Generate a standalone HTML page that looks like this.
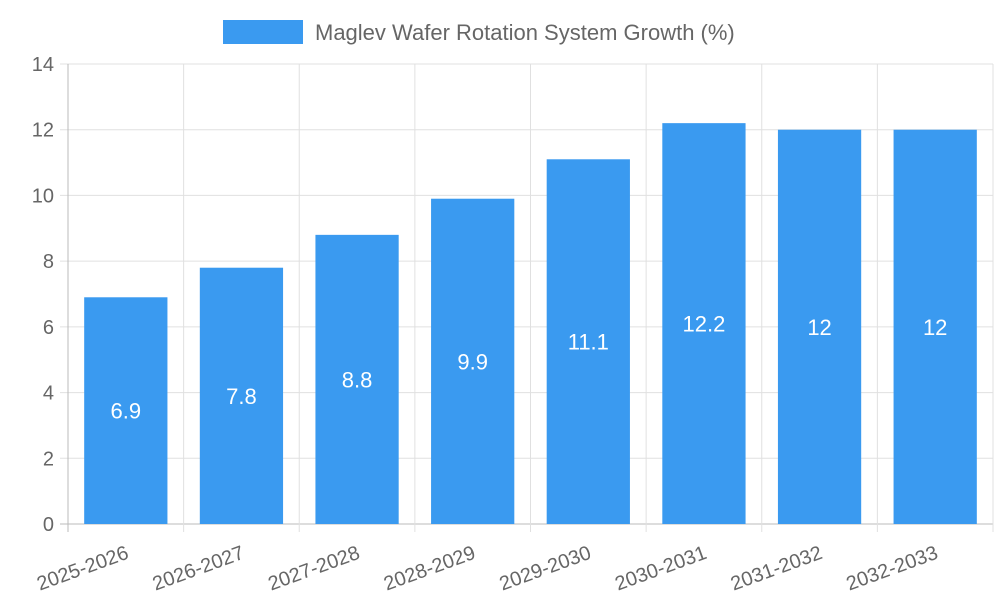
<!DOCTYPE html>
<html><head><meta charset="utf-8"><style>
body{margin:0;background:#fff;font-family:"Liberation Sans",sans-serif}
</style></head><body>
<svg id="c" width="1000" height="600" xmlns="http://www.w3.org/2000/svg" font-family="Liberation Sans, sans-serif">
<g>
<rect x="223" y="20" width="80" height="24" fill="#3a9af0"/>
<text x="315" y="40" font-size="22" fill="#666">Maglev Wafer Rotation System Growth (%)</text>
</g>
</svg>
<script>
const categories=["2025-2026","2026-2027","2027-2028","2028-2029","2029-2030","2030-2031","2031-2032","2032-2033"];
const values=[6.9,7.8,8.8,9.9,11.1,12.2,12,12];
const yTicks=[0,2,4,6,8,10,12,14];
const svg=document.getElementById('c');const NS="http://www.w3.org/2000/svg";
const L=68,R=993,T=64,B=524,yMax=14;
const y=v=>B-(v/yMax)*(B-T);
const bw=(R-L)/categories.length;
const x=i=>L+i*bw;
function mk(t,a,p){const e=document.createElementNS(NS,t);for(const k in a)e.setAttribute(k,a[k]);(p||svg).appendChild(e);return e;}
const grid=mk('g',{});


yTicks.forEach(v=>{
 const l=mk('line',{x1:L-8,x2:R,y1:y(v),y2:y(v),stroke:v===0?'#bbb':'#e0e0e0','stroke-width':1},grid);
 
 
 const t=mk('text',{x:L-14,y:y(v)+7,'text-anchor':'end','font-size':20,fill:'#666'},svg);
 t.textContent=v;
 
 
});
for(let i=0;i<=categories.length;i++){
 const l=mk('line',{x1:x(i),x2:x(i),y1:T,y2:B+8,stroke:i===0?'#bbb':'#e0e0e0','stroke-width':1},grid);
 
 
}
categories.forEach((c,i)=>{
 const w=bw*0.72,cx=x(i)+bw/2;
 const r=mk('rect',{x:cx-w/2,y:y(values[i]),width:w,height:B-y(values[i]),fill:'#3a9af0'});
 
 
 const v=mk('text',{x:cx,y:(y(values[i])+B)/2+8,'text-anchor':'middle','font-size':22,fill:'#fff'});
 v.textContent=values[i];
 
 
 const t=mk('text',{x:cx+4,y:B+34,'text-anchor':'end','font-size':20,fill:'#666',transform:`rotate(-20 ${cx+4} ${B+34})`});
 t.textContent=c;
 
 
});
</script>
</body></html>
